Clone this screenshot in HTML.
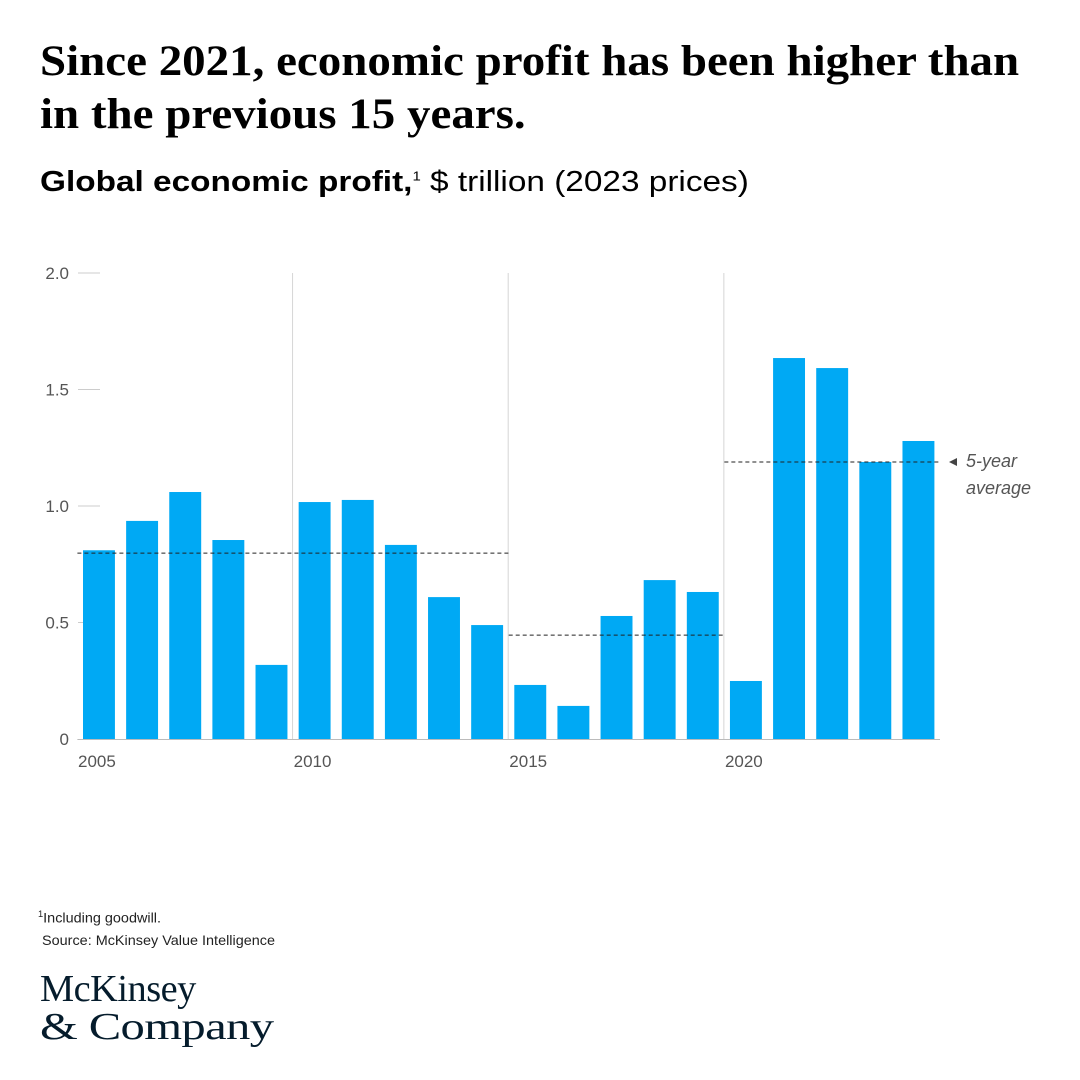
<!DOCTYPE html>
<html><head><meta charset="utf-8"><style>
body{margin:0;width:1080px;height:1080px;background:#fff;position:relative;font-family:"Liberation Sans",sans-serif;overflow:hidden}
.t{position:absolute;left:40px;top:35px;font-family:"Liberation Serif",serif;font-weight:bold;font-size:43px;line-height:53px;color:#000;transform-origin:0 0;transform:scaleX(1.092);white-space:nowrap}
.s{position:absolute;left:40px;top:166px;font-size:29px;color:#000;transform-origin:0 0;transform:scaleX(1.15);white-space:nowrap}
.fn{position:absolute;left:38px;top:903px;font-size:14px;color:#222;line-height:22px;transform-origin:0 0;transform:scaleX(1.03);white-space:nowrap}
.lg{position:absolute;left:40px;font-family:"Liberation Serif",serif;font-size:38px;line-height:38px;color:#051c2c;letter-spacing:-0.5px;transform-origin:0 0;white-space:nowrap}
</style></head><body>
<div class="t">Since 2021, economic profit has been higher than<br>in the previous 15 years.</div>
<div class="s"><b style="font-weight:bold">Global economic profit,</b><sup style="font-size:13px">1</sup> $ trillion (2023 prices)</div>
<svg id="c" width="1080" height="1080" style="position:absolute;left:0;top:0"></svg>
<div class="fn"><sup style="font-size:9px">1</sup>Including goodwill.<br>&nbsp;Source: McKinsey Value Intelligence</div>
<div class="lg" style="top:970px;transform:scaleX(1.01)">McKinsey</div>
<div class="lg" style="top:1008px;transform:scaleX(1.28)">&amp; Company</div>
<script>
const years=[2005,2006,2007,2008,2009,2010,2011,2012,2013,2014,2015,2016,2017,2018,2019,2020,2021,2022,2023,2024];
const values=[0.81,0.936,1.06,0.854,0.318,1.017,1.026,0.833,0.609,0.489,0.232,0.142,0.528,0.682,0.631,0.249,1.635,1.592,1.189,1.279];
const yTicks=[0,0.5,1.0,1.5,2.0];
const yTickLabels=["0","0.5","1.0","1.5","2.0"];
const xLabels=[2005,2010,2015,2020];
const avgStart=[2005,2015,2020];
const avgEnd=[2014,2019,2024];
const avgValues=[0.798,0.446,1.189];
const svg=document.getElementById('c');
const NS='http://www.w3.org/2000/svg';
const L=77.4,R=940,T=273,B=739,yMax=2;
const band=(R-L)/years.length;
const y=v=>B-(v/yMax)*(B-T);
const xL=yr=>L+(yr-years[0])*band;
function mk(tag,a){const e=document.createElementNS(NS,tag);for(const k in a)e.setAttribute(k,a[k]);svg.appendChild(e);return e;}
yTicks.forEach((t,i)=>{
 if(t>0){const l=mk('line',{x1:78,x2:100,y1:y(t),y2:y(t),stroke:'#ccc','stroke-width':1});
 
 }
 const tx=mk('text',{x:69,y:y(t)+6,'text-anchor':'end','font-size':17,fill:'#555','font-family':'Liberation Sans'});
 tx.textContent=yTickLabels[i];
 
 
});
xLabels.forEach(yr=>{
 if(yr>years[0]){const g=mk('line',{x1:xL(yr)-0.5,x2:xL(yr)-0.5,y1:T,y2:B,stroke:'#d6d6d6','stroke-width':1});
 
 }
 const tx=mk('text',{x:xL(yr)+0.6,y:767,'font-size':17,fill:'#555','font-family':'Liberation Sans'});
 tx.textContent=yr;
 
 
});
years.forEach((yr,i)=>{
 const r=mk('rect',{x:xL(yr)+5.6,y:y(values[i]),width:band-11.2,height:B-y(values[i]),fill:'#00a9f4'});
 
 
});
const ax=mk('line',{x1:L,x2:R,y1:B+0.5,y2:B+0.5,stroke:'#bbb','stroke-width':1});


avgValues.forEach((v,i)=>{
 const l=mk('line',{x1:xL(avgStart[i]),x2:xL(avgEnd[i]+1),y1:y(v),y2:y(v),stroke:'#222','stroke-width':1,'stroke-dasharray':'4,3'});
 
 
});
const ar=mk('polygon',{points:`949,${y(avgValues[2])} 957,${y(avgValues[2])-4} 957,${y(avgValues[2])+4}`,fill:'#444'});


[['5-year',467],['average',494]].forEach(([s,yy])=>{
 const tx=mk('text',{x:966,y:yy,'font-size':18,fill:'#555','font-style':'italic','font-family':'Liberation Sans'});
 tx.textContent=s;
 
 
});
</script>
</body></html>
